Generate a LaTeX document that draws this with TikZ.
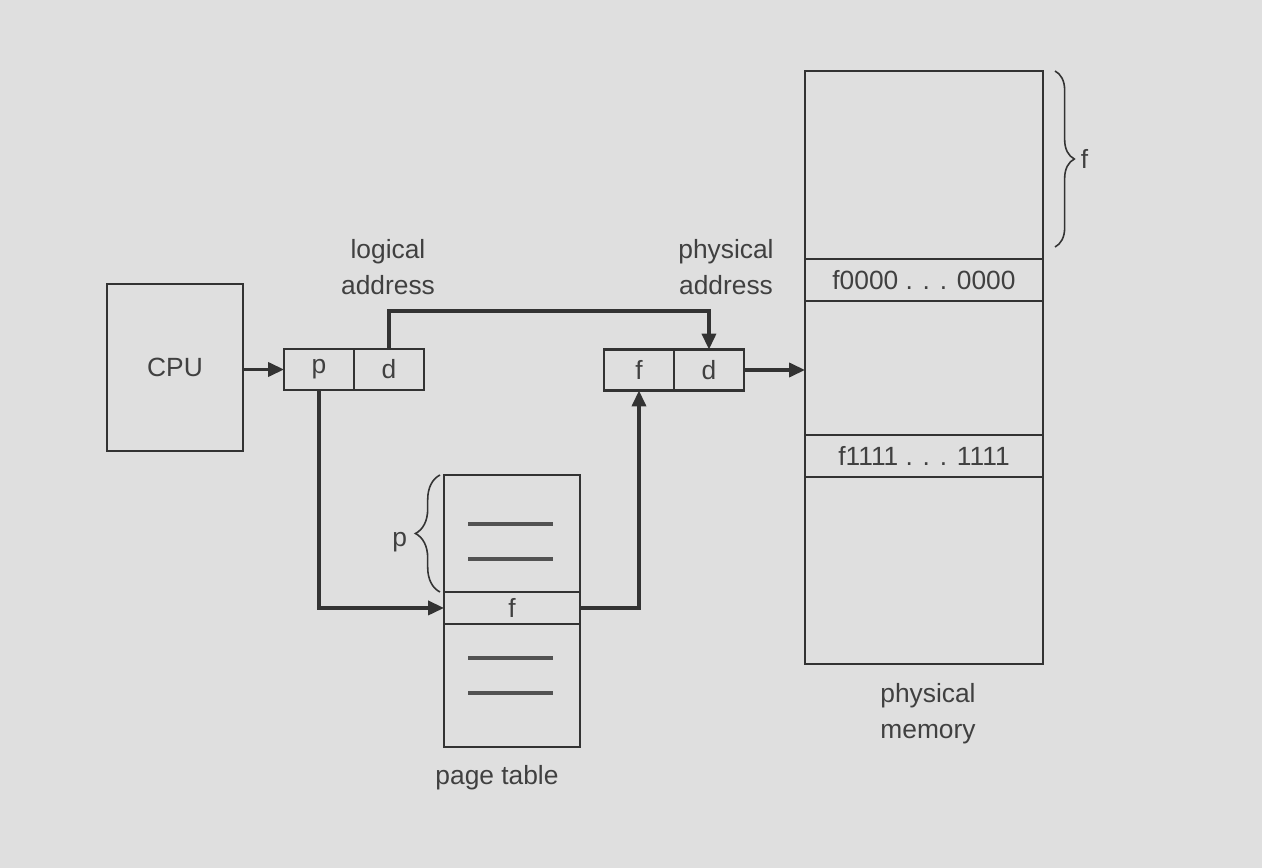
\documentclass[tikz,border=0pt]{standalone}
\usepackage{fontspec}
\setmainfont{Liberation Sans}
\usetikzlibrary{positioning,calc,chains,scopes,arrows.meta,decorations.pathreplacing}
\definecolor{bgcol}{HTML}{DFDFDF}
\definecolor{ink}{HTML}{333333}
\definecolor{txt}{HTML}{404040}
\tikzset{
    box/.style = {
        draw = ink,
        line width = 1.2pt,
        inner sep = 0pt,
        outer sep = 0pt,
        text = txt,
        },
    cell/.style = {
        box,
        minimum width = 1.4cm,
        minimum height = 0.82cm,
        on chain,
        },
    ptrow/.style = {
        box,
        minimum width = 2.72cm,
        on chain,
        },
    memrow/.style = {
        box,
        minimum width = 4.76cm,
        on chain,
        },
    label text/.style = {
        text = txt,
        align = center,
        font = \fontsize{15}{20.4}\selectfont,
        },
    link/.style = {
        draw = ink,
        line width = 1.8pt,
        -{Triangle[length=9pt, width=8pt]},
        },
    entry/.style = {
        draw = ink!85,
        line width = 2pt,
        },
    curly/.style = {
        draw = ink,
        line width = 0.9pt,
        decorate,
        },
}
\begin{document}
\begin{tikzpicture}[x=0.02cm, y=-0.02cm, node distance = 0pt,
                    every node/.append style={font=\fontsize{15}{18}\selectfont}]
    \fill[bgcol] (0,0) rectangle (1262,868);

    \node [box, minimum width=2.72cm, minimum height=3.34cm] (cpu) at (175,367.5) {CPU};

    % logical address
    { [start chain = logical going right]
        \node [cell, anchor=west] (lp) at (284,369.5) {p};
        \node [cell] (ld) {d};
    }
    % physical address
    { [start chain = physical going right]
        \node [cell, anchor=west] (pf) at (604,370) {f};
        \node [cell] (pd) {d};
    }
    \node [label text] (logical) at (388,267) {logical\\address};
    \node [label text] (physical) at (726,267) {physical\\address};

    % page table
    { [start chain = table going below]
        \node [ptrow, minimum height=2.34cm, anchor=north west] (pttop) at (444,475) {};
        \node [ptrow, minimum height=0.64cm] (ptf) {f};
        \node [ptrow, minimum height=2.46cm] (ptbot) {};
    }
    \node [label text] (pagetable) at (497,778) {page table};

    % physical memory
    { [start chain = memory going below]
        \node [memrow, minimum height=3.76cm, anchor=north west] (m1) at (805,71) {};
        \node [memrow, minimum height=0.84cm] (m2) {f0000 . . . 0000};
        \node [memrow, minimum height=2.68cm] (m3) {};
        \node [memrow, minimum height=0.84cm] (m4) {f1111 . . . 1111};
        \node [memrow, minimum height=3.74cm] (m5) {};
    }
    \node [label text] (physmem) at (928,714) {physical\\memory};

    % braces
    \coordinate (pb1) at (440,592);
    \coordinate (pb2) at (440,475);
    \draw [curly, decoration={brace, amplitude=14pt}] (pb1) -- node [left=15pt, yshift=-5pt, label text] (pbr) {p} (pb2);
    \coordinate (fb1) at (1055,71);
    \coordinate (fb2) at (1055,247);
    \draw [curly, decoration={brace, amplitude=11pt}] (fb1) -- node [right=11pt, label text] (fbr) {f} (fb2);

    % arrows
    \draw [link] (cpu.east |- lp.west) -- (lp.west);
    \draw [link] (ld.north) -- ++(0,-38) -| (pd.north);
    \draw [link] (lp.south) |- (ptf.west);
    \draw [link] (ptf.east) -| (pf.south);
    \draw [link] (pd.east) -- (pd.east -| m3.west);

    % page table entries
    \foreach \y in {524,559,658,693}
        \draw [entry] (468,\y) -- (553,\y);
\end{tikzpicture}
\end{document}
